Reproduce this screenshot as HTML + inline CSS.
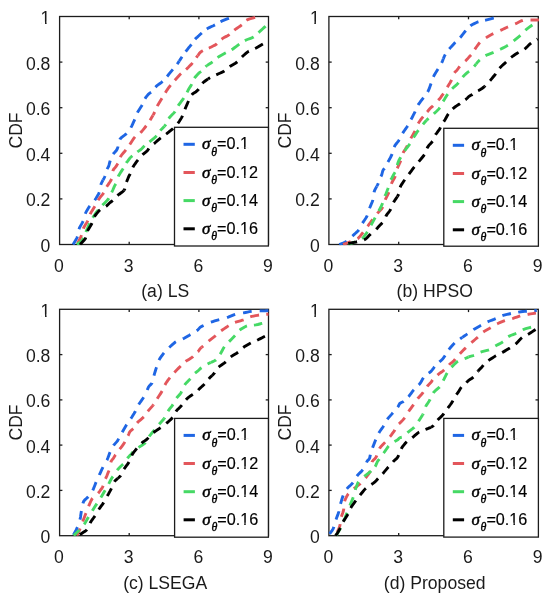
<!DOCTYPE html>
<html><head><meta charset="utf-8"><style>
html,body{margin:0;padding:0;background:#fff;}
svg{display:block;}
.t{font-family:"Liberation Sans",Arial,sans-serif;font-size:17.6px;fill:#1a1a1a;}
.l{font-family:"Liberation Sans",Arial,sans-serif;font-size:16.2px;fill:#000;stroke:#000;stroke-width:0.15px;}
.g{font-family:"Liberation Serif","DejaVu Serif",serif;font-style:italic;font-size:17.0px;fill:#000;stroke:#000;stroke-width:0.45px;}
.gs{font-family:"Liberation Serif","DejaVu Serif",serif;font-style:italic;font-size:12.0px;fill:#000;stroke:#000;stroke-width:0.35px;}
</style></head><body>
<svg width="550" height="602" viewBox="0 0 550 602">
<defs><clipPath id="cla"><rect x="58.95" y="15.85" width="210.20" height="229.30"/></clipPath><clipPath id="clb"><rect x="328.25" y="15.85" width="210.70" height="229.30"/></clipPath><clipPath id="clc"><rect x="58.95" y="308.65" width="210.20" height="227.70"/></clipPath><clipPath id="cld"><rect x="328.25" y="308.65" width="210.70" height="227.70"/></clipPath></defs>
<rect width="550" height="602" fill="#fff"/>
<rect x="59.6" y="16.5" width="208.9" height="228.0" fill="none" stroke="#1c1c1c" stroke-width="1.3"/>
<line x1="129.2" y1="244.5" x2="129.2" y2="241.7" stroke="#1c1c1c" stroke-width="1.3"/>
<line x1="129.2" y1="16.5" x2="129.2" y2="19.3" stroke="#1c1c1c" stroke-width="1.3"/>
<line x1="198.9" y1="244.5" x2="198.9" y2="241.7" stroke="#1c1c1c" stroke-width="1.3"/>
<line x1="198.9" y1="16.5" x2="198.9" y2="19.3" stroke="#1c1c1c" stroke-width="1.3"/>
<line x1="59.6" y1="198.9" x2="62.4" y2="198.9" stroke="#1c1c1c" stroke-width="1.3"/>
<line x1="268.5" y1="198.9" x2="265.7" y2="198.9" stroke="#1c1c1c" stroke-width="1.3"/>
<line x1="59.6" y1="153.3" x2="62.4" y2="153.3" stroke="#1c1c1c" stroke-width="1.3"/>
<line x1="268.5" y1="153.3" x2="265.7" y2="153.3" stroke="#1c1c1c" stroke-width="1.3"/>
<line x1="59.6" y1="107.7" x2="62.4" y2="107.7" stroke="#1c1c1c" stroke-width="1.3"/>
<line x1="268.5" y1="107.7" x2="265.7" y2="107.7" stroke="#1c1c1c" stroke-width="1.3"/>
<line x1="59.6" y1="62.1" x2="62.4" y2="62.1" stroke="#1c1c1c" stroke-width="1.3"/>
<line x1="268.5" y1="62.1" x2="265.7" y2="62.1" stroke="#1c1c1c" stroke-width="1.3"/>
<g clip-path="url(#cla)"><path d="M73.09,244.48 L74.13,242.77 L75.17,241.03 L76.20,239.30 L77.10,237.55 L77.70,235.68 L78.08,233.69 L78.40,231.71 L78.77,229.75 L79.45,227.90 L80.37,226.12 L81.40,224.39 L82.37,222.66 L83.23,220.86 L83.83,218.94 L84.34,217.00 L84.85,215.07 L85.50,213.20 L86.41,211.39 L87.41,209.66 L88.43,207.93 L89.52,206.26 L90.80,204.71 L92.17,203.25 L93.53,201.80 L94.76,200.22 L95.86,198.54 L96.92,196.83 L97.97,195.12 L98.87,193.36 L99.48,191.47 L99.85,189.51 L100.15,187.52 L100.54,185.56 L101.17,183.69 L102.08,181.89 L103.00,180.11 L103.06,180.02" fill="none" stroke="#1f66e4" stroke-width="2.9" stroke-dasharray="9.15,7.55" stroke-dashoffset="0.07"/><path d="M103.06,180.02 L103.96,178.36 L104.84,176.53 L105.53,174.66 L106.14,172.75 L106.60,170.88 L107.00,169.24 L107.76,167.89 L108.60,166.32 L109.18,164.43 L109.67,162.49 L110.22,160.57 L110.90,158.68 L111.64,156.81 L112.50,155.01 L113.64,153.46 L115.00,152.02 L116.30,150.54 L117.28,148.85 L117.91,146.96 L118.39,145.02 L118.83,143.06 L119.28,141.10 L119.95,139.30 L121.13,137.82 L122.66,136.59 L124.29,135.40 L125.87,134.17 L127.28,132.78 L128.51,131.21 L129.67,129.57 L130.77,127.88 L131.69,126.10 L132.55,124.30 L133.39,122.47 L134.22,120.63 L134.99,118.78 L135.55,117.32" fill="none" stroke="#1f66e4" stroke-width="2.9" stroke-dasharray="9.15,7.20" stroke-dashoffset="4.70"/><path d="M135.55,117.32 L135.71,116.89 L136.41,115.02 L137.15,113.15 L138.08,111.39 L139.17,109.71 L140.28,108.02 L141.37,106.35 L142.37,104.62 L143.23,102.80 L144.00,100.95 L144.81,99.13 L145.83,97.42 L147.04,95.82 L148.31,94.29 L149.75,93.09 L151.31,92.10 L152.65,90.81 L153.84,89.21 L155.04,87.61 L156.41,86.15 L157.97,84.92 L159.59,83.74 L161.22,82.55 L162.73,81.25 L164.10,79.79 L165.44,78.31 L166.77,76.78 L168.07,75.26 L169.32,73.68 L170.57,72.11 L171.85,70.56 L173.13,69.01 L174.45,67.50 L175.77,65.98 L177.00,64.40 L178.14,62.76 L179.19,61.11" fill="none" stroke="#1f66e4" stroke-width="2.9" stroke-dasharray="9.15,6.70" stroke-dashoffset="10.87"/><path d="M179.19,61.11 L179.23,61.05 L180.32,59.36 L181.41,57.68 L182.55,56.01 L183.69,54.37 L184.85,52.73 L186.05,51.11 L187.28,49.54 L188.56,47.96 L189.84,46.41 L191.07,44.84 L192.25,43.20 L193.34,41.51 L194.48,39.87 L195.80,38.41 L197.31,37.11 L198.73,35.81 L200.10,34.47 L201.61,33.19 L203.14,31.89 L204.65,30.57 L206.22,29.34 L207.92,28.29 L209.71,27.40 L211.54,26.55 L213.35,25.71 L215.14,24.80 L216.90,23.82 L218.62,22.79 L220.36,21.77 L222.15,20.88 L224.00,20.10 L225.88,19.40 L227.76,18.67 L229.64,18.03 L231.59,17.48 L233.54,17.02" fill="none" stroke="#1f66e4" stroke-width="2.9" stroke-dasharray="9.15,6.40" stroke-dashoffset="3.99"/><path d="M77.57,243.47 L78.47,241.67 L79.35,239.87 L80.26,238.07 L81.07,236.25 L81.72,234.35 L82.23,232.42 L82.74,230.46 L83.34,228.56 L84.23,226.78 L85.27,225.05 L86.34,223.36 L87.36,221.63 L88.17,219.81 L88.85,217.92 L89.50,216.02 L90.19,214.15 L91.07,212.35 L92.12,210.64 L93.21,208.93 L94.25,207.22 L95.25,205.49 L96.18,203.69 L97.09,201.91 L98.08,200.18 L99.24,198.54 L100.50,196.96 L101.77,195.41 L103.00,193.84 L104.07,192.15 L104.95,190.35 L105.79,188.53 L106.74,186.75 L107.83,185.08 L108.97,183.42 L110.08,181.75 L111.08,180.02 L111.78,178.20 L111.99,176.99" fill="none" stroke="#e3565b" stroke-width="2.9" stroke-dasharray="9.25,6.80" stroke-dashoffset="0.05"/><path d="M111.99,176.99 L112.13,176.24 L112.31,174.23 L112.52,172.29 L112.99,170.49 L113.87,168.96 L115.12,167.64 L116.24,166.11 L117.19,164.47 L118.12,163.08 L118.90,161.55 L119.58,159.73 L120.16,157.86 L120.85,156.10 L121.95,154.53 L123.27,153.03 L124.61,151.52 L125.87,149.97 L127.05,148.35 L128.21,146.71 L129.37,145.07 L130.51,143.40 L131.60,141.72 L132.69,140.03 L133.78,138.37 L135.06,136.84 L136.59,135.58 L138.24,134.44 L139.84,133.26 L141.30,131.89 L142.60,130.39 L143.88,128.81 L145.13,127.26 L146.36,125.67 L147.52,124.02 L148.64,122.36 L149.75,120.67 L150.80,118.96 L151.82,117.23 L152.84,115.50 L152.93,115.34" fill="none" stroke="#e3565b" stroke-width="2.9" stroke-dasharray="9.25,6.70" stroke-dashoffset="10.04"/><path d="M152.93,115.34 L153.84,113.74 L154.74,111.94 L155.53,110.09 L156.30,108.25 L157.11,106.40 L158.06,104.64 L159.08,102.91 L160.15,101.20 L161.20,99.49 L162.26,97.78 L163.31,96.07 L164.37,94.36 L165.37,92.65 L166.37,90.94 L167.51,89.30 L168.69,87.68 L169.90,86.06 L171.13,84.49 L172.45,82.96 L173.78,81.43 L175.10,79.93 L176.44,78.45 L177.79,76.94 L179.14,75.46 L180.53,74.02 L182.04,72.70 L183.62,71.45 L185.22,70.22 L186.73,68.89 L188.17,67.50 L189.58,66.07 L191.00,64.65 L192.32,63.15 L193.53,61.53 L194.64,59.87 L195.80,58.22 L197.01,56.63 L197.80,55.62" fill="none" stroke="#e3565b" stroke-width="2.9" stroke-dasharray="9.25,6.40" stroke-dashoffset="5.47"/><path d="M197.80,55.62 L198.22,55.08 L199.28,53.53 L200.54,52.18 L202.16,51.06 L203.95,50.15 L205.78,49.35 L207.66,48.60 L209.50,47.80 L211.31,46.94 L213.12,46.05 L214.91,45.14 L216.58,44.09 L218.06,42.77 L219.43,41.28 L220.80,39.85 L222.36,38.62 L224.07,37.59 L225.84,36.63 L227.60,35.67 L229.30,34.63 L230.85,33.37 L232.29,31.98 L233.75,30.61 L235.33,29.36 L236.98,28.22 L238.65,27.10 L240.30,25.96 L241.88,24.73 L243.29,23.32 L244.64,21.84 L246.05,20.49 L247.75,19.53 L249.63,18.89 L251.56,18.35 L253.51,17.80 L255.46,17.34 L257.43,17.02 L259.42,16.75 L260.42,16.64" fill="none" stroke="#e3565b" stroke-width="2.9" stroke-dasharray="9.25,6.45" stroke-dashoffset="2.03"/><path d="M76.92,244.48 L78.54,243.29 L80.17,242.11 L81.67,240.83 L82.88,239.32 L83.72,237.52 L84.44,235.65 L85.18,233.78 L85.92,231.91 L86.69,230.07 L87.48,228.22 L88.27,226.37 L89.08,224.53 L89.91,222.70 L90.87,220.92 L91.84,219.17 L92.86,217.46 L93.95,215.77 L95.11,214.11 L96.25,212.47 L97.46,210.87 L98.76,209.32 L100.08,207.81 L101.43,206.33 L102.80,204.85 L104.21,203.41 L105.63,202.00 L107.02,200.56 L108.32,199.06 L109.36,197.37 L110.18,195.55 L110.97,193.75 L111.85,192.04 L112.71,190.28 L113.47,188.43 L114.26,186.59 L115.14,184.90 L116.10,183.42 L116.61,182.16" fill="none" stroke="#46d965" stroke-width="2.9" stroke-dasharray="9.50,6.40" stroke-dashoffset="0.05"/><path d="M116.61,182.16 L116.77,181.75 L117.19,179.82 L117.65,177.92 L118.37,176.17 L119.37,174.53 L120.41,172.82 L121.48,171.11 L122.55,169.44 L123.59,167.82 L124.52,166.09 L125.40,164.31 L126.47,162.69 L127.72,161.19 L128.79,159.62 L129.86,158.07 L131.25,156.72 L132.81,155.47 L134.41,154.26 L135.96,153.03 L137.43,151.86 L138.91,150.84 L140.51,149.81 L141.98,148.47 L143.32,146.98 L144.74,145.57 L146.27,144.29 L147.87,143.09 L149.47,141.85 L151.03,140.60 L152.58,139.32 L154.14,138.05 L155.65,136.75 L156.99,135.27 L158.15,133.65 L159.29,131.98 L160.50,130.39 L161.84,128.90 L163.26,127.47 L164.41,126.28" fill="none" stroke="#46d965" stroke-width="2.9" stroke-dasharray="9.50,6.30" stroke-dashoffset="9.96"/><path d="M164.41,126.28 L164.65,126.03 L165.91,124.50 L166.84,122.75 L167.60,120.90 L168.44,119.10 L169.53,117.46 L170.90,116.00 L172.31,114.59 L173.71,113.15 L174.98,111.62 L176.00,109.91 L176.93,108.13 L177.86,106.35 L178.91,104.64 L180.09,103.03 L181.30,101.41 L182.50,99.79 L183.69,98.17 L184.80,96.51 L185.87,94.80 L186.80,93.06 L187.59,91.28 L188.49,89.53 L189.54,87.82 L190.60,86.13 L191.60,84.38 L192.44,82.55 L193.20,80.70 L194.04,78.88 L195.11,77.24 L196.43,75.71 L197.75,74.25 L199.08,72.91 L200.54,71.86 L202.02,70.74 L203.32,69.26 L204.58,67.71 L205.99,66.32 L207.00,65.57" fill="none" stroke="#46d965" stroke-width="2.9" stroke-dasharray="9.50,6.55" stroke-dashoffset="7.16"/><path d="M207.00,65.57 L207.59,65.13 L209.29,64.06 L210.98,62.97 L212.61,61.80 L214.14,60.53 L215.65,59.20 L217.18,57.88 L218.78,56.70 L220.50,55.67 L222.26,54.71 L224.03,53.76 L225.81,52.82 L227.60,51.91 L229.41,51.02 L231.18,50.06 L232.85,48.97 L234.47,47.78 L236.07,46.57 L237.68,45.36 L239.30,44.18 L240.97,43.04 L242.64,41.92 L244.34,40.87 L246.12,39.98 L248.00,39.25 L249.88,38.59 L251.76,37.89 L253.58,37.07 L255.15,35.90 L256.59,34.51 L258.03,33.12 L259.49,31.73 L260.98,30.39 L262.47,29.02 L263.95,27.67 L265.46,26.33 L266.97,25.00 L268.48,23.68" fill="none" stroke="#46d965" stroke-width="2.9" stroke-dasharray="9.50,6.60" stroke-dashoffset="2.82"/><path d="M80.12,244.48 L81.49,243.02 L82.86,241.56 L84.23,240.08 L85.39,238.50 L86.11,236.70 L86.52,234.76 L86.94,232.80 L87.57,230.93 L88.50,229.18 L89.52,227.47 L90.59,225.76 L91.58,224.03 L92.42,222.22 L93.07,220.33 L93.67,218.42 L94.46,216.62 L95.58,214.97 L96.83,213.42 L98.13,211.90 L99.43,210.37 L100.89,209.07 L102.59,208.07 L104.40,207.22 L106.12,206.24 L107.62,204.96 L109.02,203.53 L110.50,202.21 L112.10,201.04 L113.61,199.79 L114.96,198.33 L116.26,196.83 L117.67,195.46 L119.21,194.23 L120.81,193.02 L122.39,191.79 L123.83,190.53 L123.92,190.38" fill="none" stroke="#000000" stroke-width="2.9" stroke-dasharray="9.00,6.85" stroke-dashoffset="0.03"/><path d="M123.92,190.38 L124.80,188.98 L125.29,187.09 L125.64,185.13 L126.08,183.21 L126.73,181.44 L127.49,179.66 L128.21,177.81 L129.02,175.99 L129.98,174.23 L130.83,172.45 L131.55,170.58 L132.23,168.69 L133.04,166.89 L134.08,165.20 L135.25,163.56 L136.43,161.94 L137.64,160.32 L138.89,158.77 L140.19,157.24 L141.54,155.76 L142.95,154.35 L144.48,153.05 L146.04,151.80 L147.50,150.47 L148.57,148.95 L149.59,147.37 L151.01,146.05 L152.58,144.82 L154.16,143.56 L155.67,142.24 L157.16,140.92 L158.67,139.57 L160.20,138.30 L161.82,137.09 L163.47,135.97 L165.14,134.85 L165.60,134.51" fill="none" stroke="#000000" stroke-width="2.9" stroke-dasharray="9.00,6.95" stroke-dashoffset="7.08"/><path d="M165.60,134.51 L166.74,133.67 L168.32,132.42 L169.88,131.14 L171.43,129.86 L172.94,128.56 L174.40,127.17 L175.82,125.76 L177.19,124.30 L178.39,122.70 L179.51,121.04 L180.58,119.35 L181.60,117.62 L182.46,115.82 L183.20,113.95 L183.87,112.08 L184.59,110.19 L185.33,108.34 L186.12,106.49 L186.94,104.64 L187.73,102.80 L188.54,100.97 L189.42,99.15 L190.30,97.37 L191.25,95.62 L192.44,94.07 L193.97,92.86 L195.66,91.92 L197.22,90.74 L198.54,89.28 L199.68,87.64 L200.68,85.90 L201.72,84.22 L203.00,82.73 L204.53,81.46 L206.15,80.27 L207.78,79.11 L208.12,78.90" fill="none" stroke="#000000" stroke-width="2.9" stroke-dasharray="9.00,6.95" stroke-dashoffset="15.33"/><path d="M208.12,78.90 L209.47,78.06 L211.26,77.13 L213.07,76.30 L214.91,75.46 L216.74,74.64 L218.55,73.80 L220.38,72.95 L222.19,72.09 L223.96,71.17 L225.61,70.03 L227.14,68.76 L228.67,67.48 L230.27,66.27 L231.97,65.22 L233.71,64.20 L235.42,63.17 L237.07,62.05 L238.53,60.71 L239.86,59.23 L241.20,57.72 L242.62,56.31 L244.08,54.94 L245.57,53.60 L247.10,52.30 L248.72,51.20 L250.53,50.38 L252.41,49.67 L254.27,48.94 L256.08,48.08 L257.82,47.07 L259.52,46.03 L261.23,44.98 L262.95,43.97 L264.76,43.08 L266.62,42.31 L268.48,41.58" fill="none" stroke="#000000" stroke-width="2.9" stroke-dasharray="9.00,6.80" stroke-dashoffset="6.68"/></g>
<text x="59.0" y="272.0" text-anchor="middle" class="t">0</text>
<text x="128.6" y="272.0" text-anchor="middle" class="t">3</text>
<text x="198.3" y="272.0" text-anchor="middle" class="t">6</text>
<text x="267.9" y="272.0" text-anchor="middle" class="t">9</text>
<text x="50.4" y="251.9" text-anchor="end" class="t">0</text>
<text x="50.4" y="206.3" text-anchor="end" class="t">0.2</text>
<text x="50.4" y="160.7" text-anchor="end" class="t">0.4</text>
<text x="50.4" y="115.1" text-anchor="end" class="t">0.6</text>
<text x="50.4" y="69.5" text-anchor="end" class="t">0.8</text>
<text x="50.4" y="23.9" text-anchor="end" class="t">1</text>
<text transform="translate(22.0,130.5) rotate(-90)" text-anchor="middle" class="t">CDF</text>
<text x="165.2" y="297.3" text-anchor="middle" class="t">(a) LS</text>
<rect x="174.5" y="127.3" width="93.9" height="118.7" fill="#fff" stroke="#1c1c1c" stroke-width="1.3"/>
<line x1="183.5" y1="144.3" x2="194.8" y2="144.3" stroke="#1f66e4" stroke-width="3"/>
<text x="202.1" y="149.3" class="g">σ</text>
<text x="211.3" y="155.9" class="gs">θ</text>
<text x="217.1" y="149.3" class="l">=0.1</text>
<line x1="183.5" y1="172.5" x2="194.8" y2="172.5" stroke="#e3565b" stroke-width="3"/>
<text x="202.1" y="177.5" class="g">σ</text>
<text x="211.3" y="184.1" class="gs">θ</text>
<text x="217.1" y="177.5" class="l">=0.12</text>
<line x1="183.5" y1="200.6" x2="194.8" y2="200.6" stroke="#46d965" stroke-width="3"/>
<text x="202.1" y="205.6" class="g">σ</text>
<text x="211.3" y="212.2" class="gs">θ</text>
<text x="217.1" y="205.6" class="l">=0.14</text>
<line x1="183.5" y1="228.8" x2="194.8" y2="228.8" stroke="#000000" stroke-width="3"/>
<text x="202.1" y="233.8" class="g">σ</text>
<text x="211.3" y="240.3" class="gs">θ</text>
<text x="217.1" y="233.8" class="l">=0.16</text>
<rect x="328.9" y="16.5" width="209.4" height="228.0" fill="none" stroke="#1c1c1c" stroke-width="1.3"/>
<line x1="398.7" y1="244.5" x2="398.7" y2="241.7" stroke="#1c1c1c" stroke-width="1.3"/>
<line x1="398.7" y1="16.5" x2="398.7" y2="19.3" stroke="#1c1c1c" stroke-width="1.3"/>
<line x1="468.5" y1="244.5" x2="468.5" y2="241.7" stroke="#1c1c1c" stroke-width="1.3"/>
<line x1="468.5" y1="16.5" x2="468.5" y2="19.3" stroke="#1c1c1c" stroke-width="1.3"/>
<line x1="328.9" y1="198.9" x2="331.7" y2="198.9" stroke="#1c1c1c" stroke-width="1.3"/>
<line x1="538.3" y1="198.9" x2="535.5" y2="198.9" stroke="#1c1c1c" stroke-width="1.3"/>
<line x1="328.9" y1="153.3" x2="331.7" y2="153.3" stroke="#1c1c1c" stroke-width="1.3"/>
<line x1="538.3" y1="153.3" x2="535.5" y2="153.3" stroke="#1c1c1c" stroke-width="1.3"/>
<line x1="328.9" y1="107.7" x2="331.7" y2="107.7" stroke="#1c1c1c" stroke-width="1.3"/>
<line x1="538.3" y1="107.7" x2="535.5" y2="107.7" stroke="#1c1c1c" stroke-width="1.3"/>
<line x1="328.9" y1="62.1" x2="331.7" y2="62.1" stroke="#1c1c1c" stroke-width="1.3"/>
<line x1="538.3" y1="62.1" x2="535.5" y2="62.1" stroke="#1c1c1c" stroke-width="1.3"/>
<g clip-path="url(#clb)"><path d="M339.23,244.48 L341.11,243.75 L343.00,243.04 L344.86,242.29 L346.63,241.40 L348.19,240.21 L349.63,238.82 L351.07,237.41 L352.52,236.00 L353.98,234.63 L355.47,233.28 L356.96,231.94 L358.36,230.52 L359.50,228.90 L360.38,227.10 L361.24,225.30 L362.19,223.55 L363.31,221.86 L364.45,220.20 L365.59,218.55 L366.66,216.87 L367.45,215.07 L367.94,213.13 L368.41,211.19 L369.06,209.32 L369.87,207.52 L370.66,205.69 L371.43,203.82 L372.18,201.98 L372.83,200.11 L373.25,198.24 L373.46,196.26 L373.64,194.25 L373.97,192.31 L374.64,190.44 L375.53,188.64 L376.46,186.86 L376.75,186.29" fill="none" stroke="#1f66e4" stroke-width="2.9" stroke-dasharray="9.00,7.65" stroke-dashoffset="0.80"/><path d="M376.75,186.29 L377.39,185.08 L378.27,183.30 L378.97,181.48 L379.53,179.59 L380.18,177.83 L381.04,176.33 L381.76,174.66 L382.27,172.75 L382.79,170.86 L383.51,169.42 L384.44,168.76 L385.02,168.10 L385.55,167.05 L386.28,165.48 L387.04,163.67 L387.93,161.92 L388.93,160.25 L389.91,158.52 L390.84,156.74 L391.72,154.94 L392.37,153.09 L392.88,151.18 L393.42,149.24 L394.02,147.35 L394.93,145.59 L396.09,143.97 L397.35,142.40 L398.56,140.81 L399.63,139.12 L400.51,137.32 L401.35,135.49 L402.28,133.76 L403.35,132.14 L404.47,130.52 L405.61,128.88 L406.75,127.24 L407.87,125.64 L408.80,123.96 L409.54,122.38" fill="none" stroke="#1f66e4" stroke-width="2.9" stroke-dasharray="9.00,7.30" stroke-dashoffset="5.61"/><path d="M409.54,122.38 L409.66,122.13 L410.52,120.38 L411.47,118.69 L412.40,116.96 L413.31,115.18 L414.22,113.38 L415.08,111.55 L415.89,109.71 L416.64,107.86 L417.45,106.06 L418.45,104.39 L419.62,102.82 L420.80,101.20 L421.99,99.61 L423.20,98.03 L424.36,96.46 L425.48,94.84 L426.62,93.31 L427.71,91.90 L428.57,90.24 L429.30,88.39 L429.99,86.50 L430.69,84.60 L431.34,82.71 L431.99,80.80 L432.62,78.88 L433.32,77.01 L434.20,75.21 L435.23,73.48 L436.30,71.79 L437.37,70.08 L438.44,68.37 L439.49,66.66 L440.51,64.93 L441.49,63.17 L442.35,61.35 L443.09,59.50 L443.38,58.74" fill="none" stroke="#1f66e4" stroke-width="2.9" stroke-dasharray="9.00,7.20" stroke-dashoffset="12.98"/><path d="M443.38,58.74 L443.81,57.61 L444.58,55.76 L445.51,54.01 L446.65,52.36 L447.89,50.77 L449.12,49.20 L450.42,47.64 L451.77,46.16 L453.12,44.66 L454.47,43.18 L455.89,41.74 L457.33,40.35 L458.80,38.98 L460.22,37.54 L461.50,35.99 L462.73,34.42 L463.94,32.80 L465.20,31.23 L466.50,29.70 L467.85,28.22 L469.24,26.78 L470.78,25.53 L472.48,24.50 L474.27,23.59 L476.08,22.72 L477.92,21.95 L479.85,21.38 L481.81,20.95 L483.79,20.51 L485.74,20.08 L487.69,19.60 L489.65,19.08 L491.58,18.53 L493.51,18.00 L495.47,17.55 L497.44,17.18 L498.44,17.02" fill="none" stroke="#1f66e4" stroke-width="2.9" stroke-dasharray="9.00,6.75" stroke-dashoffset="4.30"/><path d="M343.07,244.48 L344.95,243.79 L346.84,243.11 L348.75,242.43 L350.63,241.72 L352.49,241.01 L354.38,240.28 L356.22,239.53 L357.89,238.50 L359.29,237.14 L360.57,235.59 L361.85,234.03 L363.10,232.46 L364.31,230.87 L365.50,229.25 L366.69,227.63 L367.87,226.01 L369.03,224.37 L370.22,222.75 L371.41,221.13 L372.59,219.49 L373.76,217.87 L374.94,216.25 L376.15,214.65 L377.48,213.13 L378.88,211.69 L380.30,210.28 L381.65,208.80 L382.69,207.15 L383.39,205.31 L383.97,203.39 L384.58,201.48 L385.30,199.63 L386.16,197.81 L387.04,196.03 L387.95,194.23 L388.88,192.47 L389.67,190.69 L390.28,188.80 L390.81,186.88 L390.97,186.16" fill="none" stroke="#e3565b" stroke-width="2.9" stroke-dasharray="8.50,7.55" stroke-dashoffset="0.40"/><path d="M390.97,186.16 L391.21,185.01 L391.65,183.26 L392.44,181.53 L393.42,179.79 L394.40,178.04 L395.21,176.24 L395.77,174.34 L396.23,172.38 L396.70,170.45 L397.26,168.51 L398.03,166.68 L398.91,164.88 L399.68,163.06 L400.44,161.39 L401.14,159.78 L401.68,157.93 L402.17,155.99 L402.70,154.05 L403.42,152.27 L404.42,150.66 L405.49,148.99 L406.47,147.24 L407.40,145.46 L408.29,143.66 L409.12,141.83 L409.96,140.01 L410.87,138.30 L411.87,136.63 L412.85,134.92 L413.82,133.14 L414.75,131.37 L415.57,129.54 L416.29,127.67 L416.99,125.80 L417.80,124.05 L418.83,122.43 L419.97,120.79 L421.13,119.17 L422.34,117.60 L423.57,116.09 L424.10,115.43" fill="none" stroke="#e3565b" stroke-width="2.9" stroke-dasharray="8.50,8.05" stroke-dashoffset="14.11"/><path d="M424.10,115.43 L424.81,114.54 L426.04,113.01 L427.34,111.69 L428.53,110.28 L429.76,108.77 L431.20,107.40 L432.72,106.08 L434.14,104.69 L435.48,103.19 L436.81,101.70 L438.14,100.38 L439.42,99.08 L440.60,97.55 L441.74,95.94 L442.91,94.45 L444.02,93.06 L445.02,91.47 L445.93,89.71 L446.86,87.93 L447.89,86.20 L448.96,84.49 L450.05,82.80 L451.05,81.07 L451.89,79.27 L452.56,77.38 L453.19,75.46 L453.94,73.64 L455.05,72.04 L456.45,70.67 L457.75,69.19 L458.84,67.53 L460.01,65.91 L461.40,64.49 L462.89,63.15 L464.41,61.83 L465.89,60.48 L467.31,59.09 L468.57,57.63 L469.73,56.24 L471.08,54.99 L471.94,53.95" fill="none" stroke="#e3565b" stroke-width="2.9" stroke-dasharray="8.50,7.55" stroke-dashoffset="11.40"/><path d="M471.94,53.95 L472.32,53.50 L473.34,51.79 L474.34,50.06 L475.43,48.37 L476.60,46.73 L477.78,45.11 L478.99,43.52 L480.32,42.06 L481.86,40.76 L483.46,39.55 L485.09,38.41 L486.79,37.34 L488.53,36.31 L490.25,35.31 L492.02,34.33 L493.79,33.42 L495.63,32.55 L497.44,31.73 L499.28,30.91 L501.12,30.07 L502.93,29.22 L504.75,28.38 L506.59,27.54 L508.43,26.74 L510.26,25.94 L512.12,25.16 L513.99,24.39 L515.82,23.59 L517.64,22.72 L519.43,21.81 L521.22,20.95 L523.06,20.24 L524.99,20.01 L526.99,20.01 L528.99,20.01 L530.99,20.01 L533.00,20.01 L535.00,20.01 L537.00,20.01 L539.00,19.83" fill="none" stroke="#e3565b" stroke-width="2.9" stroke-dasharray="8.50,7.70" stroke-dashoffset="10.80"/><path d="M348.19,244.48 L350.07,243.79 L351.98,243.13 L353.87,242.45 L355.73,241.72 L357.59,240.94 L359.43,240.17 L361.22,239.30 L362.73,238.12 L363.99,236.59 L365.17,234.97 L366.36,233.35 L367.45,231.69 L368.48,229.95 L369.43,228.18 L370.38,226.42 L371.34,224.66 L372.29,222.89 L373.25,221.13 L374.20,219.35 L375.15,217.60 L376.11,215.82 L377.06,214.06 L378.04,212.31 L379.02,210.55 L379.97,208.80 L380.90,207.02 L381.76,205.22 L382.51,203.35 L383.09,201.45 L383.62,199.52 L384.20,197.65 L384.95,195.96 L385.74,194.29 L386.48,192.47 L387.21,190.58 L387.88,188.71 L388.44,186.82 L388.92,184.94" fill="none" stroke="#46d965" stroke-width="2.9" stroke-dasharray="8.75,7.50" stroke-dashoffset="1.22"/><path d="M388.92,184.94 L388.93,184.90 L389.44,182.99 L390.04,181.16 L390.91,179.59 L391.88,177.99 L392.79,176.24 L393.72,174.48 L394.67,172.86 L395.56,171.29 L396.16,169.47 L396.70,167.53 L397.16,165.59 L397.68,163.70 L398.33,161.80 L399.12,159.98 L400.12,158.27 L401.10,156.58 L401.93,154.80 L402.84,153.07 L403.91,151.50 L405.12,150.11 L406.26,148.58 L407.52,147.03 L408.77,145.48 L409.96,143.88 L410.98,142.15 L411.92,140.37 L412.85,138.64 L413.89,137.00 L414.99,135.38 L416.06,133.71 L417.15,132.00 L418.24,130.34 L419.41,128.72 L420.69,127.17 L421.94,125.62 L423.22,124.07 L424.53,122.57 L425.85,121.06 L426.59,120.29" fill="none" stroke="#46d965" stroke-width="2.9" stroke-dasharray="8.75,7.40" stroke-dashoffset="10.67"/><path d="M426.59,120.29 L427.22,119.62 L428.64,118.30 L430.13,117.03 L431.58,115.68 L433.06,114.31 L434.58,113.04 L436.09,111.74 L437.56,110.34 L438.93,108.91 L440.09,107.31 L440.98,105.53 L441.74,103.73 L442.60,102.11 L443.60,100.65 L444.63,99.04 L445.65,97.30 L446.68,95.62 L447.77,94.13 L448.91,92.77 L450.03,91.19 L451.21,89.62 L452.61,88.23 L454.12,86.95 L455.63,85.63 L457.12,84.31 L458.50,82.87 L459.71,81.27 L460.82,79.61 L461.99,77.97 L463.24,76.44 L464.66,75.03 L466.13,73.66 L467.59,72.36 L469.04,71.33 L470.43,70.38 L471.78,69.05 L473.13,67.57 L474.46,66.07 L475.71,64.52 L476.07,64.07" fill="none" stroke="#46d965" stroke-width="2.9" stroke-dasharray="8.75,6.95" stroke-dashoffset="6.03"/><path d="M476.07,64.07 L476.99,62.94 L478.27,61.42 L479.64,59.96 L481.16,58.66 L482.74,57.43 L484.34,56.26 L486.09,55.31 L487.93,54.53 L489.81,53.80 L491.67,53.07 L493.53,52.32 L495.37,51.52 L497.21,50.70 L499.03,49.86 L500.84,48.99 L502.63,48.12 L504.45,47.21 L506.22,46.30 L507.96,45.30 L509.59,44.16 L511.17,42.90 L512.73,41.65 L514.29,40.42 L515.87,39.16 L517.43,37.91 L518.99,36.63 L520.52,35.33 L521.92,33.92 L523.27,32.41 L524.62,30.96 L526.08,29.59 L527.67,28.36 L529.27,27.19 L530.90,26.01 L532.58,24.89 L534.27,23.82 L536.00,22.79 L537.72,21.77" fill="none" stroke="#46d965" stroke-width="2.9" stroke-dasharray="8.75,7.20" stroke-dashoffset="3.22"/><path d="M348.19,243.47 L350.17,243.11 L352.14,242.74 L354.12,242.36 L356.10,241.97 L358.05,241.51 L360.01,241.03 L361.94,240.53 L363.85,239.96 L365.59,239.10 L367.06,237.82 L368.41,236.34 L369.76,234.86 L371.22,233.46 L372.76,232.19 L374.34,230.96 L375.88,229.66 L377.25,228.20 L378.53,226.67 L379.88,225.19 L381.32,223.84 L382.69,222.52 L383.76,220.92 L384.67,219.17 L385.39,217.46 L386.11,215.82 L387.18,214.22 L388.42,212.63 L389.63,211.03 L390.70,209.37 L391.51,207.54 L392.16,205.65 L392.88,203.78 L393.79,202.00 L394.86,200.31 L395.98,198.63 L397.09,196.96 L397.39,196.49" fill="none" stroke="#000000" stroke-width="2.9" stroke-dasharray="9.00,7.20" stroke-dashoffset="16.15"/><path d="M397.39,196.49 L398.14,195.27 L398.91,193.47 L399.30,191.54 L399.56,189.55 L399.98,187.61 L400.77,185.84 L401.82,184.13 L402.93,182.46 L404.05,180.80 L405.21,179.13 L406.40,177.54 L407.61,175.92 L408.82,174.30 L410.01,172.68 L411.22,171.08 L412.40,169.47 L413.59,167.85 L414.82,166.25 L416.13,164.72 L417.41,163.24 L418.64,161.80 L419.87,160.32 L421.15,158.77 L422.41,157.22 L423.60,155.74 L424.60,154.39 L425.36,152.80 L425.95,150.93 L426.62,149.06 L427.55,147.30 L428.69,145.66 L429.99,144.13 L431.39,142.70 L432.60,141.15 L433.46,139.37 L434.09,137.50 L434.64,136.10" fill="none" stroke="#000000" stroke-width="2.9" stroke-dasharray="9.00,6.90" stroke-dashoffset="6.27"/><path d="M434.64,136.10 L434.79,135.72 L435.76,134.24 L436.93,132.80 L438.11,131.21 L439.28,129.59 L440.28,127.92 L441.12,126.19 L441.98,124.41 L442.98,122.75 L444.09,121.17 L445.14,119.53 L446.12,117.78 L447.07,116.00 L448.07,114.27 L449.24,112.65 L450.54,111.12 L451.89,109.64 L453.33,108.25 L454.91,107.04 L456.56,105.90 L458.24,104.80 L459.91,103.73 L461.52,102.55 L463.06,101.29 L464.59,100.22 L466.06,99.22 L467.38,97.92 L468.73,96.53 L470.36,95.50 L472.13,94.66 L473.80,93.59 L475.41,92.38 L477.02,91.28 L478.67,90.46 L480.32,89.57 L481.97,88.48 L483.58,87.29 L484.53,86.45" fill="none" stroke="#000000" stroke-width="2.9" stroke-dasharray="9.00,6.65" stroke-dashoffset="14.15"/><path d="M484.53,86.45 L485.07,85.97 L486.44,84.54 L487.81,83.08 L489.21,81.64 L490.53,80.13 L491.81,78.58 L493.09,77.03 L494.37,75.51 L495.61,73.91 L496.75,72.27 L497.86,70.60 L499.00,68.94 L500.28,67.41 L501.72,66.02 L503.21,64.68 L504.70,63.31 L506.17,61.94 L507.61,60.55 L509.05,59.14 L510.52,57.79 L512.12,56.56 L513.78,55.44 L515.45,54.33 L517.15,53.23 L518.87,52.20 L520.64,51.27 L522.43,50.36 L524.18,49.35 L525.74,48.12 L527.18,46.76 L528.60,45.32 L530.04,43.93 L531.60,42.67 L533.27,41.58 L535.00,40.55 L536.74,39.53 L537.60,39.03" fill="none" stroke="#000000" stroke-width="2.9" stroke-dasharray="9.00,6.80" stroke-dashoffset="7.88"/></g>
<text x="328.3" y="272.0" text-anchor="middle" class="t">0</text>
<text x="398.1" y="272.0" text-anchor="middle" class="t">3</text>
<text x="467.9" y="272.0" text-anchor="middle" class="t">6</text>
<text x="537.7" y="272.0" text-anchor="middle" class="t">9</text>
<text x="319.7" y="251.9" text-anchor="end" class="t">0</text>
<text x="319.7" y="206.3" text-anchor="end" class="t">0.2</text>
<text x="319.7" y="160.7" text-anchor="end" class="t">0.4</text>
<text x="319.7" y="115.1" text-anchor="end" class="t">0.6</text>
<text x="319.7" y="69.5" text-anchor="end" class="t">0.8</text>
<text x="319.7" y="23.9" text-anchor="end" class="t">1</text>
<text transform="translate(291.3,130.5) rotate(-90)" text-anchor="middle" class="t">CDF</text>
<text x="434.7" y="297.3" text-anchor="middle" class="t">(b) HPSO</text>
<rect x="443.8" y="128.3" width="94.6" height="117.9" fill="#fff" stroke="#1c1c1c" stroke-width="1.3"/>
<line x1="452.8" y1="145.3" x2="464.1" y2="145.3" stroke="#1f66e4" stroke-width="3"/>
<text x="471.4" y="150.3" class="g">σ</text>
<text x="480.6" y="156.9" class="gs">θ</text>
<text x="486.4" y="150.3" class="l">=0.1</text>
<line x1="452.8" y1="173.5" x2="464.1" y2="173.5" stroke="#e3565b" stroke-width="3"/>
<text x="471.4" y="178.5" class="g">σ</text>
<text x="480.6" y="185.1" class="gs">θ</text>
<text x="486.4" y="178.5" class="l">=0.12</text>
<line x1="452.8" y1="201.6" x2="464.1" y2="201.6" stroke="#46d965" stroke-width="3"/>
<text x="471.4" y="206.6" class="g">σ</text>
<text x="480.6" y="213.2" class="gs">θ</text>
<text x="486.4" y="206.6" class="l">=0.14</text>
<line x1="452.8" y1="229.8" x2="464.1" y2="229.8" stroke="#000000" stroke-width="3"/>
<text x="471.4" y="234.8" class="g">σ</text>
<text x="480.6" y="241.3" class="gs">θ</text>
<text x="486.4" y="234.8" class="l">=0.16</text>
<rect x="59.6" y="309.3" width="208.9" height="226.4" fill="none" stroke="#1c1c1c" stroke-width="1.3"/>
<line x1="129.2" y1="535.7" x2="129.2" y2="532.9" stroke="#1c1c1c" stroke-width="1.3"/>
<line x1="129.2" y1="309.3" x2="129.2" y2="312.1" stroke="#1c1c1c" stroke-width="1.3"/>
<line x1="198.9" y1="535.7" x2="198.9" y2="532.9" stroke="#1c1c1c" stroke-width="1.3"/>
<line x1="198.9" y1="309.3" x2="198.9" y2="312.1" stroke="#1c1c1c" stroke-width="1.3"/>
<line x1="59.6" y1="490.4" x2="62.4" y2="490.4" stroke="#1c1c1c" stroke-width="1.3"/>
<line x1="268.5" y1="490.4" x2="265.7" y2="490.4" stroke="#1c1c1c" stroke-width="1.3"/>
<line x1="59.6" y1="445.1" x2="62.4" y2="445.1" stroke="#1c1c1c" stroke-width="1.3"/>
<line x1="268.5" y1="445.1" x2="265.7" y2="445.1" stroke="#1c1c1c" stroke-width="1.3"/>
<line x1="59.6" y1="399.9" x2="62.4" y2="399.9" stroke="#1c1c1c" stroke-width="1.3"/>
<line x1="268.5" y1="399.9" x2="265.7" y2="399.9" stroke="#1c1c1c" stroke-width="1.3"/>
<line x1="59.6" y1="354.6" x2="62.4" y2="354.6" stroke="#1c1c1c" stroke-width="1.3"/>
<line x1="268.5" y1="354.6" x2="265.7" y2="354.6" stroke="#1c1c1c" stroke-width="1.3"/>
<g clip-path="url(#clc)"><path d="M73.09,535.50 L74.08,533.75 L75.06,531.99 L76.03,530.24 L76.92,528.43 L77.66,526.58 L78.35,524.70 L79.03,522.80 L79.68,520.89 L80.17,518.95 L80.51,516.98 L80.79,514.98 L81.09,512.99 L81.40,511.02 L81.74,509.03 L82.14,507.06 L82.53,505.09 L82.97,503.14 L83.69,501.36 L84.90,499.86 L86.39,498.50 L87.85,497.14 L89.22,495.70 L90.40,494.09 L91.52,492.41 L92.56,490.69 L93.42,488.90 L94.18,487.02 L94.90,485.17 L95.62,483.29 L96.41,481.43 L97.23,479.60 L98.04,477.76 L98.87,475.93 L99.71,474.10 L100.57,472.29 L101.40,470.45 L102.24,468.64 L103.14,466.83 L104.12,465.09 L105.16,463.37 L105.39,462.99" fill="none" stroke="#1f66e4" stroke-width="2.9" stroke-dasharray="8.75,7.85" stroke-dashoffset="15.93"/><path d="M105.39,462.99 L106.18,461.64 L107.07,459.90 L107.83,458.07 L108.53,456.19 L109.23,454.31 L109.90,452.43 L110.66,450.62 L111.59,448.83 L112.57,447.09 L113.61,445.41 L114.87,443.85 L116.21,442.38 L117.47,440.86 L118.39,439.19 L119.18,437.42 L120.13,435.65 L121.16,433.93 L122.18,432.21 L123.20,430.47 L124.22,428.75 L125.24,427.01 L126.26,425.28 L127.35,423.59 L128.49,421.93 L129.67,420.30 L130.81,418.65 L131.93,416.98 L132.99,415.28 L134.08,413.58 L135.11,411.86 L136.03,410.07 L136.87,408.26 L137.71,406.43 L138.63,404.64 L139.70,402.96 L140.89,401.33 L142.05,399.70 L143.21,398.05 L144.23,396.33 L145.16,394.56 L145.64,393.57" fill="none" stroke="#1f66e4" stroke-width="2.9" stroke-dasharray="8.75,7.35" stroke-dashoffset="12.97"/><path d="M145.64,393.57 L146.04,392.75 L146.90,390.94 L147.64,389.06 L148.41,387.25 L149.50,385.71 L150.89,384.44 L151.93,382.99 L152.54,381.16 L153.02,379.21 L153.51,377.27 L154.05,375.32 L154.60,373.39 L155.18,371.47 L155.79,369.55 L156.39,367.62 L156.99,365.72 L157.64,363.82 L158.29,361.92 L159.04,360.06 L160.01,358.32 L161.15,356.69 L162.33,355.06 L163.54,353.45 L164.84,351.91 L166.23,350.48 L167.65,349.06 L169.09,347.65 L170.55,346.27 L172.03,344.91 L173.54,343.58 L175.08,342.31 L176.77,341.31 L178.63,340.54 L180.51,339.86 L182.36,339.09 L184.15,338.21 L185.89,337.22 L187.63,336.20 L189.37,335.20 L191.09,334.16 L192.79,333.11" fill="none" stroke="#1f66e4" stroke-width="2.9" stroke-dasharray="8.75,7.55" stroke-dashoffset="12.47"/><path d="M192.79,333.11 L192.81,333.09 L194.50,332.03 L196.24,331.01 L197.82,329.93 L198.96,328.59 L200.10,327.32 L201.72,326.39 L203.56,325.56 L205.37,324.67 L207.15,323.79 L208.96,322.93 L210.84,322.18 L212.75,321.55 L214.67,320.96 L216.58,320.37 L218.53,319.83 L220.48,319.35 L222.43,318.90 L224.38,318.42 L226.33,317.90 L228.21,317.20 L230.06,316.43 L231.90,315.64 L233.75,314.87 L235.66,314.24 L237.61,313.81 L239.58,313.49 L241.58,313.17 L243.55,312.85 L245.52,312.47 L247.49,312.08 L249.47,311.70 L251.44,311.31 L253.44,311.02 L255.43,310.93 L257.43,310.91 L259.45,310.91 L261.47,310.91 L263.46,310.88 L265.48,310.79 L267.48,310.64 L268.48,310.55" fill="none" stroke="#1f66e4" stroke-width="2.9" stroke-dasharray="8.75,8.05" stroke-dashoffset="12.23"/><path d="M76.92,535.50 L77.77,533.69 L78.63,531.85 L79.47,530.04 L80.26,528.18 L80.98,526.33 L81.67,524.43 L82.37,522.55 L83.07,520.67 L83.79,518.79 L84.51,516.91 L85.23,515.03 L85.94,513.15 L86.66,511.27 L87.41,509.41 L88.13,507.54 L88.87,505.66 L89.66,503.82 L90.47,501.99 L91.33,500.18 L92.33,498.46 L93.63,497.03 L95.18,495.76 L96.74,494.50 L98.18,493.14 L99.45,491.57 L100.64,489.97 L101.80,488.34 L102.80,486.62 L103.49,484.78 L103.98,482.84 L104.44,480.91 L105.05,479.28 L105.84,477.95 L106.65,476.34 L107.37,474.50 L108.11,472.65 L108.88,470.84 L109.55,469.00 L109.92,467.38" fill="none" stroke="#e3565b" stroke-width="2.9" stroke-dasharray="9.00,7.40" stroke-dashoffset="1.27"/><path d="M109.92,467.38 L109.99,467.08 L110.32,465.11 L110.64,463.14 L111.11,461.30 L112.08,459.83 L113.33,458.43 L114.31,456.78 L115.21,455.19 L116.26,453.86 L117.33,452.36 L118.44,450.73 L119.67,449.19 L120.92,447.65 L122.11,446.05 L123.29,444.42 L124.36,442.74 L125.29,441.02 L126.15,439.21 L127.03,437.44 L127.96,435.81 L128.75,434.30 L129.30,432.67 L130.30,431.19 L131.81,429.95 L133.27,428.61 L134.48,427.05 L135.52,425.35 L136.59,423.65 L137.84,422.12 L139.31,420.78 L140.86,419.51 L142.42,418.24 L143.83,416.84 L145.04,415.26 L146.15,413.58 L147.31,411.95 L148.57,410.39 L149.91,408.89 L151.24,407.40 L152.56,405.88 L152.97,405.32" fill="none" stroke="#e3565b" stroke-width="2.9" stroke-dasharray="9.00,6.90" stroke-dashoffset="10.74"/><path d="M152.97,405.32 L153.74,404.27 L154.84,402.58 L155.86,400.86 L156.92,399.14 L157.99,397.44 L159.11,395.76 L160.22,394.09 L161.31,392.41 L162.31,390.69 L163.19,388.88 L164.00,387.05 L164.79,385.21 L165.74,383.49 L166.84,381.82 L168.00,380.19 L169.18,378.56 L170.41,376.97 L171.69,375.43 L173.03,373.91 L174.38,372.42 L175.77,370.97 L177.19,369.57 L178.60,368.14 L180.02,366.72 L181.46,365.31 L182.87,363.89 L184.31,362.48 L185.87,361.24 L187.54,360.15 L189.28,359.13 L191.00,358.09 L192.62,356.96 L193.99,355.55 L195.25,353.99 L196.57,352.63 L197.96,351.68 L198.94,350.53 L199.80,349.03 L201.14,347.70 L201.57,347.37" fill="none" stroke="#e3565b" stroke-width="2.9" stroke-dasharray="9.00,6.75" stroke-dashoffset="7.86"/><path d="M201.57,347.37 L202.72,346.47 L204.27,345.21 L205.74,343.83 L207.15,342.42 L208.64,341.06 L210.22,339.82 L211.82,338.62 L213.44,337.44 L215.04,336.22 L216.55,334.91 L217.99,333.50 L219.43,332.12 L220.99,330.85 L222.63,329.70 L224.31,328.59 L225.98,327.46 L227.65,326.37 L229.37,325.33 L231.08,324.29 L232.82,323.29 L234.63,322.45 L236.54,321.82 L238.46,321.30 L240.41,320.78 L242.34,320.24 L244.22,319.56 L246.05,318.74 L247.87,317.86 L249.68,317.04 L251.58,316.45 L253.55,316.05 L255.52,315.68 L257.50,315.30 L259.47,314.96 L261.47,314.69 L263.46,314.51 L265.48,314.35 L267.48,314.19 L268.48,314.12" fill="none" stroke="#e3565b" stroke-width="2.9" stroke-dasharray="9.00,7.25" stroke-dashoffset="6.80"/><path d="M73.71,535.50 L75.17,534.12 L76.61,532.71 L78.05,531.33 L79.47,529.90 L80.84,528.43 L82.16,526.92 L83.44,525.38 L84.58,523.72 L85.62,522.03 L86.64,520.28 L87.64,518.54 L88.66,516.82 L89.70,515.10 L90.73,513.38 L91.77,511.66 L92.84,509.96 L93.91,508.26 L94.97,506.56 L96.06,504.86 L97.16,503.19 L98.27,501.51 L99.38,499.84 L100.45,498.14 L101.50,496.42 L102.52,494.70 L103.54,492.96 L104.54,491.24 L105.58,489.49 L106.60,487.77 L107.62,486.05 L108.55,484.31 L109.39,482.54 L110.32,480.78 L111.27,479.01 L112.29,477.36 L113.40,475.93 L114.49,474.41 L114.90,473.78" fill="none" stroke="#46d965" stroke-width="2.9" stroke-dasharray="8.50,7.30" stroke-dashoffset="0.52"/><path d="M114.90,473.78 L115.56,472.74 L116.63,471.04 L117.81,469.43 L119.14,467.96 L120.55,466.53 L121.99,465.22 L123.38,464.00 L124.61,462.57 L125.71,460.92 L126.80,459.27 L127.91,457.75 L129.02,456.37 L130.25,455.12 L131.51,453.77 L132.72,452.23 L134.08,450.80 L135.59,449.49 L137.13,448.33 L138.70,447.36 L140.35,446.34 L142.02,445.23 L143.69,444.12 L145.23,442.88 L146.48,441.38 L147.45,439.64 L148.41,437.87 L149.43,436.15 L150.61,434.54 L151.91,433.03 L153.23,431.51 L154.51,429.97 L155.79,428.41 L157.04,426.85 L158.29,425.28 L159.59,423.75 L160.94,422.25 L162.26,420.76 L163.59,419.24 L164.04,418.63" fill="none" stroke="#46d965" stroke-width="2.9" stroke-dasharray="8.50,7.20" stroke-dashoffset="11.49"/><path d="M164.04,418.63 L164.77,417.66 L165.74,415.89 L166.58,414.08 L167.44,412.27 L168.44,410.55 L169.60,408.92 L170.85,407.35 L172.08,405.77 L173.22,404.12 L174.19,402.37 L175.10,400.58 L176.07,398.84 L177.26,397.23 L178.58,395.76 L179.93,394.27 L181.02,392.71 L181.74,391.03 L182.43,389.29 L183.32,387.52 L184.24,385.76 L185.26,384.10 L186.54,382.61 L187.96,381.18 L189.37,379.76 L190.74,378.28 L192.00,376.72 L193.20,375.14 L194.50,373.64 L196.03,372.38 L197.61,371.20 L198.94,369.93 L200.17,368.71 L201.77,367.64 L203.44,366.58 L205.13,365.47 L206.83,364.41 L208.59,363.48 L210.43,362.66 L210.77,362.52" fill="none" stroke="#46d965" stroke-width="2.9" stroke-dasharray="8.50,7.15" stroke-dashoffset="7.24"/><path d="M210.77,362.52 L212.28,361.87 L214.09,361.08 L215.79,360.08 L217.16,358.72 L218.32,357.09 L219.41,355.42 L220.45,353.70 L221.43,351.95 L222.38,350.19 L223.33,348.42 L224.38,346.72 L225.61,345.14 L226.98,343.69 L228.39,342.29 L229.81,340.86 L231.25,339.43 L232.66,338.03 L234.08,336.60 L235.45,335.13 L236.70,333.57 L237.93,331.99 L239.23,330.51 L240.79,329.29 L242.50,328.25 L244.24,327.23 L245.99,326.30 L247.84,325.69 L249.82,325.44 L251.81,325.28 L253.83,325.13 L255.80,324.90 L257.78,324.49 L259.70,323.99 L261.65,323.47 L263.60,322.95 L265.53,322.45 L267.50,322.02 L268.48,321.80" fill="none" stroke="#46d965" stroke-width="2.9" stroke-dasharray="8.50,7.05" stroke-dashoffset="2.61"/><path d="M78.19,535.50 L79.91,534.43 L81.63,533.39 L83.34,532.33 L85.04,531.26 L86.57,530.04 L87.69,528.50 L88.52,526.69 L89.31,524.83 L90.15,523.02 L91.17,521.28 L92.30,519.63 L93.49,518.00 L94.65,516.37 L95.74,514.67 L96.76,512.95 L97.76,511.18 L98.80,509.46 L99.92,507.81 L101.10,506.18 L102.29,504.55 L103.42,502.89 L104.44,501.15 L105.35,499.36 L106.28,497.60 L107.30,495.88 L108.34,494.18 L109.32,492.41 L110.29,490.65 L111.20,488.86 L112.01,487.02 L112.78,485.17 L113.54,483.31 L114.49,481.57 L115.77,480.07 L117.28,478.78 L117.80,478.36" fill="none" stroke="#000000" stroke-width="2.9" stroke-dasharray="8.75,7.30" stroke-dashoffset="14.30"/><path d="M117.80,478.36 L118.83,477.52 L120.30,476.16 L121.39,474.55 L122.22,472.74 L122.99,470.90 L123.94,469.16 L125.08,467.53 L126.29,465.92 L127.47,464.29 L128.61,462.64 L129.58,460.90 L130.37,459.06 L131.11,457.21 L131.81,455.42 L132.65,453.79 L133.81,452.20 L135.04,450.64 L136.24,449.03 L137.47,447.49 L138.84,446.07 L140.28,444.73 L141.49,443.35 L142.67,442.13 L144.30,441.13 L145.97,440.11 L147.41,438.78 L148.71,437.28 L150.10,435.81 L151.52,434.39 L153.00,433.03 L154.56,431.78 L156.23,430.65 L157.90,429.54 L159.57,428.41 L161.22,427.28 L162.84,426.08 L163.18,425.83" fill="none" stroke="#000000" stroke-width="2.9" stroke-dasharray="8.75,7.10" stroke-dashoffset="4.57"/><path d="M163.18,425.83 L164.47,424.88 L166.05,423.63 L167.58,422.32 L169.09,420.98 L170.57,419.62 L171.94,418.20 L173.10,416.59 L174.03,414.83 L174.98,413.04 L176.05,411.36 L177.33,409.84 L178.74,408.40 L180.16,406.97 L181.53,405.52 L182.80,403.96 L184.03,402.35 L185.22,400.74 L186.45,399.23 L187.91,397.91 L189.51,396.71 L191.14,395.54 L192.79,394.38 L194.46,393.23 L196.10,392.12 L197.57,390.94 L198.66,389.65 L199.86,388.31 L201.35,387.00 L202.86,385.66 L204.27,384.24 L205.62,382.74 L206.92,381.20 L208.13,379.69 L209.33,378.24 L210.68,376.86 L212.12,375.54" fill="none" stroke="#000000" stroke-width="2.9" stroke-dasharray="8.75,6.80" stroke-dashoffset="11.69"/><path d="M212.12,375.54 L212.17,375.50 L213.56,374.14 L214.58,372.67 L215.39,371.06 L216.46,369.45 L217.74,367.94 L219.22,366.60 L220.85,365.42 L222.52,364.32 L224.19,363.18 L225.77,361.96 L227.18,360.56 L228.53,359.06 L229.92,357.61 L231.48,356.39 L233.17,355.33 L234.91,354.31 L236.63,353.27 L238.26,352.11 L239.74,350.75 L241.18,349.35 L242.67,347.99 L244.24,346.79 L245.96,345.75 L247.70,344.73 L249.44,343.74 L251.23,342.81 L253.09,342.01 L254.94,341.25 L256.80,340.45 L258.59,339.57 L260.38,338.64 L262.16,337.69 L263.93,336.74 L265.71,335.83 L267.55,335.00 L268.48,334.59" fill="none" stroke="#000000" stroke-width="2.9" stroke-dasharray="8.75,7.00" stroke-dashoffset="4.92"/></g>
<text x="59.0" y="563.2" text-anchor="middle" class="t">0</text>
<text x="128.6" y="563.2" text-anchor="middle" class="t">3</text>
<text x="198.3" y="563.2" text-anchor="middle" class="t">6</text>
<text x="267.9" y="563.2" text-anchor="middle" class="t">9</text>
<text x="50.4" y="543.1" text-anchor="end" class="t">0</text>
<text x="50.4" y="497.8" text-anchor="end" class="t">0.2</text>
<text x="50.4" y="452.5" text-anchor="end" class="t">0.4</text>
<text x="50.4" y="407.3" text-anchor="end" class="t">0.6</text>
<text x="50.4" y="362.0" text-anchor="end" class="t">0.8</text>
<text x="50.4" y="316.7" text-anchor="end" class="t">1</text>
<text transform="translate(22.0,422.5) rotate(-90)" text-anchor="middle" class="t">CDF</text>
<text x="165.2" y="588.5" text-anchor="middle" class="t">(c) LSEGA</text>
<rect x="174.6" y="418.4" width="93.8" height="118.8" fill="#fff" stroke="#1c1c1c" stroke-width="1.3"/>
<line x1="183.6" y1="435.4" x2="194.9" y2="435.4" stroke="#1f66e4" stroke-width="3"/>
<text x="202.2" y="440.4" class="g">σ</text>
<text x="211.4" y="447.0" class="gs">θ</text>
<text x="217.2" y="440.4" class="l">=0.1</text>
<line x1="183.6" y1="463.5" x2="194.9" y2="463.5" stroke="#e3565b" stroke-width="3"/>
<text x="202.2" y="468.5" class="g">σ</text>
<text x="211.4" y="475.1" class="gs">θ</text>
<text x="217.2" y="468.5" class="l">=0.12</text>
<line x1="183.6" y1="491.7" x2="194.9" y2="491.7" stroke="#46d965" stroke-width="3"/>
<text x="202.2" y="496.7" class="g">σ</text>
<text x="211.4" y="503.3" class="gs">θ</text>
<text x="217.2" y="496.7" class="l">=0.14</text>
<line x1="183.6" y1="519.8" x2="194.9" y2="519.8" stroke="#000000" stroke-width="3"/>
<text x="202.2" y="524.8" class="g">σ</text>
<text x="211.4" y="531.4" class="gs">θ</text>
<text x="217.2" y="524.8" class="l">=0.16</text>
<rect x="328.9" y="309.3" width="209.4" height="226.4" fill="none" stroke="#1c1c1c" stroke-width="1.3"/>
<line x1="398.7" y1="535.7" x2="398.7" y2="532.9" stroke="#1c1c1c" stroke-width="1.3"/>
<line x1="398.7" y1="309.3" x2="398.7" y2="312.1" stroke="#1c1c1c" stroke-width="1.3"/>
<line x1="468.5" y1="535.7" x2="468.5" y2="532.9" stroke="#1c1c1c" stroke-width="1.3"/>
<line x1="468.5" y1="309.3" x2="468.5" y2="312.1" stroke="#1c1c1c" stroke-width="1.3"/>
<line x1="328.9" y1="490.4" x2="331.7" y2="490.4" stroke="#1c1c1c" stroke-width="1.3"/>
<line x1="538.3" y1="490.4" x2="535.5" y2="490.4" stroke="#1c1c1c" stroke-width="1.3"/>
<line x1="328.9" y1="445.1" x2="331.7" y2="445.1" stroke="#1c1c1c" stroke-width="1.3"/>
<line x1="538.3" y1="445.1" x2="535.5" y2="445.1" stroke="#1c1c1c" stroke-width="1.3"/>
<line x1="328.9" y1="399.9" x2="331.7" y2="399.9" stroke="#1c1c1c" stroke-width="1.3"/>
<line x1="538.3" y1="399.9" x2="535.5" y2="399.9" stroke="#1c1c1c" stroke-width="1.3"/>
<line x1="328.9" y1="354.6" x2="331.7" y2="354.6" stroke="#1c1c1c" stroke-width="1.3"/>
<line x1="538.3" y1="354.6" x2="535.5" y2="354.6" stroke="#1c1c1c" stroke-width="1.3"/>
<g clip-path="url(#cld)"><path d="M329.64,533.82 L330.85,532.21 L332.04,530.61 L333.09,528.93 L333.83,527.10 L334.37,525.17 L334.86,523.23 L335.39,521.28 L336.04,519.40 L336.74,517.52 L337.46,515.64 L338.16,513.76 L338.74,511.84 L339.21,509.89 L339.63,507.92 L340.04,505.95 L340.51,504.00 L341.05,502.08 L341.63,500.16 L342.21,498.23 L342.86,496.33 L343.65,494.50 L344.56,492.71 L345.54,490.96 L346.56,489.24 L347.82,487.70 L349.26,486.32 L350.75,484.96 L352.19,483.58 L353.45,482.07 L354.45,480.35 L355.38,478.58 L356.38,476.84 L357.59,475.27 L358.96,473.82 L360.38,472.40 L361.78,470.95 L363.03,469.41 L364.08,467.73 L365.06,465.97 L365.87,464.16 L366.14,463.43" fill="none" stroke="#1f66e4" stroke-width="2.9" stroke-dasharray="8.75,7.60" stroke-dashoffset="0.50"/><path d="M366.14,463.43 L366.55,462.32 L367.45,460.74 L368.76,459.47 L369.69,458.00 L370.06,456.14 L370.45,454.22 L371.06,452.32 L371.69,450.39 L372.34,448.49 L373.01,446.61 L373.73,444.73 L374.46,442.88 L375.20,441.00 L375.97,439.14 L376.78,437.31 L377.60,435.47 L378.46,433.66 L379.46,431.92 L380.60,430.29 L381.79,428.66 L382.95,427.03 L384.04,425.35 L385.00,423.59 L385.93,421.80 L386.88,420.03 L388.00,418.40 L389.30,416.89 L390.65,415.39 L391.98,413.87 L393.26,412.33 L394.49,410.75 L395.72,409.19 L397.05,407.74 L398.28,406.36 L399.03,404.80 L399.86,403.39 L401.40,402.51 L403.14,401.72 L404.73,400.56 L406.17,399.18 L407.59,397.75 L408.50,396.71" fill="none" stroke="#1f66e4" stroke-width="2.9" stroke-dasharray="8.75,7.30" stroke-dashoffset="14.93"/><path d="M408.50,396.71 L408.91,396.24 L410.12,394.65 L411.31,393.05 L412.50,391.42 L413.75,389.85 L415.10,388.38 L416.52,386.96 L417.94,385.60 L419.36,384.26 L420.59,382.77 L421.55,381.05 L422.46,379.26 L423.50,377.58 L424.85,376.13 L426.34,374.80 L427.90,373.62 L429.53,372.60 L430.97,371.38 L432.25,369.88 L433.41,368.30 L434.46,366.78 L435.65,365.38 L437.11,364.04 L438.53,362.75 L439.79,361.51 L441.21,360.38 L442.63,359.09 L443.84,357.50 L444.93,355.83 L446.00,354.13 L447.02,352.41 L448.10,350.71 L449.24,349.06 L450.51,347.52 L451.84,346.02 L453.19,344.53 L454.61,343.10 L456.12,341.81 L457.73,340.59 L459.33,339.41 L460.98,338.26 L462.24,337.41" fill="none" stroke="#1f66e4" stroke-width="2.9" stroke-dasharray="8.75,6.90" stroke-dashoffset="0.02"/><path d="M462.24,337.41 L462.66,337.12 L464.31,336.02 L465.99,334.91 L467.64,333.75 L469.27,332.57 L470.90,331.40 L472.53,330.22 L474.20,329.13 L475.95,328.14 L477.69,327.16 L479.46,326.21 L481.23,325.24 L483.00,324.29 L484.76,323.31 L486.53,322.39 L488.35,321.53 L490.21,320.78 L492.07,320.05 L493.95,319.33 L495.79,318.56 L497.63,317.70 L499.42,316.82 L501.24,315.98 L503.10,315.30 L505.05,314.80 L507.01,314.37 L508.98,313.96 L510.94,313.53 L512.92,313.15 L514.89,312.79 L516.87,312.42 L518.83,312.06 L520.83,311.72 L522.80,311.50 L524.81,311.34 L526.81,311.20 L528.81,311.07 L530.83,310.93 L532.83,310.79 L534.83,310.68 L536.83,310.55" fill="none" stroke="#1f66e4" stroke-width="2.9" stroke-dasharray="8.75,7.40" stroke-dashoffset="2.54"/><path d="M335.65,535.70 L336.48,533.87 L337.30,532.03 L338.14,530.20 L338.95,528.39 L339.67,526.51 L340.09,524.58 L340.28,522.59 L340.46,520.60 L340.81,518.63 L341.37,516.73 L342.05,514.83 L342.72,512.95 L343.33,511.02 L343.74,509.08 L343.93,507.08 L344.07,505.09 L344.26,503.08 L344.63,501.15 L345.33,499.29 L346.21,497.48 L347.12,495.70 L348.14,494.00 L349.44,492.50 L350.91,491.14 L352.40,489.81 L353.93,488.52 L355.54,487.30 L357.15,486.10 L358.77,484.92 L360.36,483.67 L361.80,482.31 L363.17,480.82 L364.47,479.30 L365.75,477.76 L366.96,476.16 L368.15,474.53 L369.29,472.90 L370.24,471.18 L370.83,469.30 L370.99,468.24" fill="none" stroke="#e3565b" stroke-width="2.9" stroke-dasharray="8.50,7.40" stroke-dashoffset="11.85"/><path d="M370.99,468.24 L371.13,467.33 L371.43,465.33 L371.71,463.37 L372.18,461.55 L373.25,460.17 L374.71,458.97 L375.92,457.48 L376.78,455.71 L377.46,453.86 L378.13,451.95 L378.83,450.10 L379.69,448.31 L380.85,446.72 L382.23,445.28 L383.62,443.85 L384.95,442.40 L386.23,440.93 L387.56,439.46 L388.93,437.96 L390.21,436.42 L391.42,434.84 L392.60,433.21 L393.77,431.58 L394.88,429.90 L395.84,428.14 L396.75,426.37 L397.72,424.81 L398.93,423.81 L400.28,422.77 L401.63,421.37 L402.96,419.87 L404.26,418.33 L405.42,416.73 L406.47,415.01 L407.52,413.29 L408.59,411.59 L409.73,409.93 L410.91,408.30 L412.08,406.67 L413.26,405.04 L414.25,403.62" fill="none" stroke="#e3565b" stroke-width="2.9" stroke-dasharray="8.50,7.30" stroke-dashoffset="9.67"/><path d="M414.25,403.62 L414.40,403.39 L415.52,401.74 L416.66,400.06 L417.85,398.46 L419.15,396.94 L420.50,395.45 L421.85,393.95 L423.13,392.41 L424.32,390.78 L425.43,389.13 L426.50,387.45 L427.57,385.87 L428.90,384.51 L430.32,383.13 L431.53,381.59 L432.46,380.00 L433.53,378.58 L435.00,377.31 L436.51,376.09 L437.79,374.84 L439.21,373.64 L440.81,372.49 L442.46,371.33 L444.02,370.09 L445.49,368.73 L446.91,367.33 L448.26,365.90 L449.44,364.54 L450.82,363.27 L452.38,362.05 L453.87,360.74 L455.14,359.24 L456.38,357.68 L457.68,356.16 L459.03,354.65 L460.38,353.18 L461.80,351.75 L463.22,350.32 L464.64,348.90 L466.08,347.49 L467.52,346.11 L467.68,345.97" fill="none" stroke="#e3565b" stroke-width="2.9" stroke-dasharray="8.50,7.00" stroke-dashoffset="9.49"/><path d="M467.68,345.97 L468.99,344.73 L470.48,343.37 L471.99,342.04 L473.53,340.77 L475.08,339.50 L476.64,338.21 L478.11,336.85 L479.46,335.38 L480.81,333.91 L482.30,332.60 L483.97,331.51 L485.72,330.56 L487.49,329.59 L489.25,328.61 L490.98,327.59 L492.65,326.48 L494.35,325.40 L496.07,324.38 L497.86,323.52 L499.72,322.70 L501.56,321.91 L503.42,321.14 L505.31,320.46 L507.24,319.92 L509.17,319.42 L511.12,318.92 L513.06,318.36 L514.96,317.72 L516.85,317.04 L518.73,316.36 L520.64,315.73 L522.59,315.25 L524.55,314.89 L526.55,314.55 L528.53,314.24 L530.51,313.92 L532.51,313.60 L534.48,313.28 L536.46,312.99 L537.46,312.83" fill="none" stroke="#e3565b" stroke-width="2.9" stroke-dasharray="8.50,7.50" stroke-dashoffset="10.98"/><path d="M336.11,535.70 L337.11,533.96 L338.11,532.21 L339.11,530.47 L340.09,528.73 L340.98,526.94 L341.81,525.10 L342.63,523.27 L343.44,521.44 L344.26,519.60 L345.05,517.75 L345.79,515.89 L346.51,514.01 L347.23,512.13 L347.96,510.28 L348.68,508.40 L349.42,506.54 L350.19,504.68 L350.98,502.83 L351.75,500.99 L352.54,499.14 L353.24,497.26 L353.82,495.33 L354.31,493.39 L354.82,491.46 L355.38,489.54 L356.03,487.64 L356.75,485.76 L357.47,483.90 L358.33,482.11 L359.50,480.55 L360.94,479.19 L362.45,477.88 L364.01,476.59 L365.59,475.36 L367.20,474.16 L368.80,472.96 L370.38,471.72 L371.85,470.38 L372.15,470.07" fill="none" stroke="#46d965" stroke-width="2.9" stroke-dasharray="8.75,7.80" stroke-dashoffset="16.37"/><path d="M372.15,470.07 L373.22,468.91 L374.53,467.40 L375.62,465.74 L376.41,463.93 L377.16,462.10 L378.16,460.51 L379.44,459.15 L380.55,457.66 L381.58,455.98 L382.67,454.33 L383.86,452.75 L385.02,451.16 L386.16,449.51 L387.30,447.86 L388.44,446.27 L389.77,444.89 L391.32,443.69 L392.95,442.54 L394.65,441.49 L396.44,440.59 L398.00,439.55 L399.05,438.26 L400.21,437.51 L401.84,437.22 L403.42,436.36 L404.87,435.04 L406.31,433.64 L407.82,432.30 L409.40,431.08 L411.01,429.90 L412.64,428.70 L414.13,427.41 L415.38,425.87 L416.52,424.24 L417.64,422.57 L418.76,420.89 L419.87,419.22 L420.99,417.56 L422.08,415.87 L422.74,414.72" fill="none" stroke="#46d965" stroke-width="2.9" stroke-dasharray="8.75,7.30" stroke-dashoffset="11.52"/><path d="M422.74,414.72 L423.06,414.15 L423.76,412.29 L424.32,410.36 L424.90,408.44 L425.64,406.61 L426.64,404.89 L427.76,403.21 L428.85,401.56 L429.92,399.84 L430.81,398.07 L431.60,396.21 L432.39,394.38 L433.41,392.71 L434.74,391.26 L436.23,389.90 L437.72,388.59 L439.14,387.41 L440.32,386.14 L441.25,384.49 L442.14,382.70 L443.07,380.93 L444.00,379.19 L444.88,377.40 L445.75,375.59 L446.65,373.82 L447.70,372.13 L448.82,370.47 L449.96,368.84 L451.17,367.37 L452.52,366.08 L453.94,364.70 L455.38,363.30 L456.87,361.98 L458.54,360.96 L460.38,360.19 L462.26,359.49 L464.13,358.79 L466.01,358.07 L467.80,357.32 L468.63,356.94" fill="none" stroke="#46d965" stroke-width="2.9" stroke-dasharray="8.75,7.20" stroke-dashoffset="7.54"/><path d="M468.63,356.94 L469.45,356.57 L471.22,356.07 L473.15,355.71 L474.99,355.06 L476.74,354.10 L478.48,353.09 L480.25,352.18 L482.13,351.55 L484.07,351.09 L486.04,350.66 L487.97,350.21 L489.84,349.51 L491.56,348.54 L493.23,347.45 L494.91,346.36 L496.65,345.34 L498.42,344.39 L500.17,343.42 L501.93,342.44 L503.56,341.34 L504.98,339.95 L506.33,338.46 L507.75,337.10 L509.38,336.06 L511.22,335.27 L513.10,334.54 L514.96,333.80 L516.78,332.96 L518.52,331.99 L520.25,330.97 L521.99,330.02 L523.83,329.25 L525.76,328.68 L527.69,328.16 L529.62,327.64 L531.58,327.14 L533.53,326.69 L535.48,326.28 L537.46,325.87" fill="none" stroke="#46d965" stroke-width="2.9" stroke-dasharray="8.75,7.35" stroke-dashoffset="3.10"/><path d="M335.39,535.50 L336.58,534.27 L337.62,532.67 L338.63,530.92 L339.63,529.22 L340.58,527.55 L341.39,525.78 L342.16,523.95 L342.98,522.12 L343.98,520.37 L345.07,518.70 L346.19,517.02 L347.28,515.32 L348.26,513.60 L349.07,511.77 L349.84,509.91 L350.68,508.08 L351.68,506.38 L352.84,504.73 L354.03,503.10 L355.21,501.47 L356.40,499.86 L357.61,498.25 L358.82,496.65 L360.05,495.06 L361.33,493.50 L362.61,491.96 L363.89,490.42 L365.22,488.90 L366.69,487.57 L368.31,486.41 L370.01,485.35 L371.71,484.26 L373.39,483.18 L374.94,481.95 L376.32,480.50 L377.62,478.99 L378.99,477.52 L379.23,477.28" fill="none" stroke="#000000" stroke-width="2.9" stroke-dasharray="9.00,6.80" stroke-dashoffset="15.72"/><path d="M379.23,477.28 L380.41,476.09 L381.83,474.66 L383.16,473.19 L384.46,471.65 L385.74,470.11 L387.02,468.55 L388.32,467.03 L389.70,465.56 L391.09,464.13 L392.42,462.66 L393.60,461.15 L395.02,459.90 L396.51,458.72 L397.70,457.21 L398.63,455.44 L399.47,453.63 L400.19,451.77 L400.84,449.92 L401.56,448.22 L402.56,446.63 L403.80,445.07 L405.08,443.53 L406.42,442.04 L407.91,440.73 L409.57,439.59 L411.22,438.46 L412.85,437.26 L414.36,435.97 L415.87,434.64 L417.36,433.30 L418.97,432.14 L420.76,431.28 L422.64,430.58 L424.53,429.88 L426.41,429.18 L428.27,428.45 L430.13,427.66 L430.92,427.28" fill="none" stroke="#000000" stroke-width="2.9" stroke-dasharray="9.00,6.80" stroke-dashoffset="10.92"/><path d="M430.92,427.28 L431.90,426.80 L433.37,425.71 L434.48,424.31 L435.58,422.68 L436.72,421.07 L437.93,419.67 L439.28,418.45 L440.67,417.11 L442.07,415.69 L443.33,414.26 L444.40,412.74 L445.51,411.16 L446.72,409.55 L447.93,407.97 L449.14,406.38 L450.33,404.75 L451.47,403.10 L452.45,401.47 L453.31,399.79 L454.21,398.07 L455.21,396.37 L456.26,394.86 L457.33,393.48 L458.38,391.87 L459.40,390.15 L460.45,388.45 L461.66,386.86 L463.13,385.53 L464.68,384.31 L466.03,383.04 L467.22,381.70 L468.66,380.41 L470.29,379.28 L471.99,378.22 L473.50,376.99 L474.81,375.50 L476.02,373.91 L477.16,372.31 L477.98,371.24" fill="none" stroke="#000000" stroke-width="2.9" stroke-dasharray="9.00,6.80" stroke-dashoffset="5.71"/><path d="M477.98,371.24 L478.34,370.77 L479.69,369.30 L481.11,367.89 L482.41,366.47 L483.39,365.04 L484.39,363.73 L485.83,362.50 L487.44,361.33 L489.04,360.17 L490.70,359.04 L492.39,357.95 L494.07,356.87 L495.79,355.83 L497.56,354.87 L499.35,353.97 L501.14,353.04 L502.91,352.11 L504.66,351.12 L506.40,350.10 L508.12,349.08 L509.84,348.04 L511.54,346.95 L513.22,345.84 L514.85,344.66 L516.36,343.37 L517.73,341.92 L519.08,340.43 L520.48,338.98 L521.99,337.71 L523.69,336.69 L525.48,335.79 L527.27,334.84 L528.99,333.82 L530.67,332.73 L532.34,331.60 L534.02,330.51 L535.72,329.43 L537.46,328.43" fill="none" stroke="#000000" stroke-width="2.9" stroke-dasharray="9.00,6.90" stroke-dashoffset="0.85"/></g>
<text x="328.3" y="563.2" text-anchor="middle" class="t">0</text>
<text x="398.1" y="563.2" text-anchor="middle" class="t">3</text>
<text x="467.9" y="563.2" text-anchor="middle" class="t">6</text>
<text x="537.7" y="563.2" text-anchor="middle" class="t">9</text>
<text x="319.7" y="543.1" text-anchor="end" class="t">0</text>
<text x="319.7" y="497.8" text-anchor="end" class="t">0.2</text>
<text x="319.7" y="452.5" text-anchor="end" class="t">0.4</text>
<text x="319.7" y="407.3" text-anchor="end" class="t">0.6</text>
<text x="319.7" y="362.0" text-anchor="end" class="t">0.8</text>
<text x="319.7" y="316.7" text-anchor="end" class="t">1</text>
<text transform="translate(291.3,422.5) rotate(-90)" text-anchor="middle" class="t">CDF</text>
<text x="434.7" y="588.5" text-anchor="middle" class="t">(d) Proposed</text>
<rect x="443.8" y="418.4" width="94.6" height="118.7" fill="#fff" stroke="#1c1c1c" stroke-width="1.3"/>
<line x1="452.8" y1="435.4" x2="464.1" y2="435.4" stroke="#1f66e4" stroke-width="3"/>
<text x="471.4" y="440.4" class="g">σ</text>
<text x="480.6" y="447.0" class="gs">θ</text>
<text x="486.4" y="440.4" class="l">=0.1</text>
<line x1="452.8" y1="463.5" x2="464.1" y2="463.5" stroke="#e3565b" stroke-width="3"/>
<text x="471.4" y="468.5" class="g">σ</text>
<text x="480.6" y="475.1" class="gs">θ</text>
<text x="486.4" y="468.5" class="l">=0.12</text>
<line x1="452.8" y1="491.7" x2="464.1" y2="491.7" stroke="#46d965" stroke-width="3"/>
<text x="471.4" y="496.7" class="g">σ</text>
<text x="480.6" y="503.3" class="gs">θ</text>
<text x="486.4" y="496.7" class="l">=0.14</text>
<line x1="452.8" y1="519.8" x2="464.1" y2="519.8" stroke="#000000" stroke-width="3"/>
<text x="471.4" y="524.8" class="g">σ</text>
<text x="480.6" y="531.4" class="gs">θ</text>
<text x="486.4" y="524.8" class="l">=0.16</text>
<rect x="41.35" y="21.64" width="3.69" height="2.86" fill="#fff"/>
<rect x="46.59" y="21.64" width="3.55" height="2.86" fill="#fff"/>
<rect x="240.71" y="147.14" width="3.44" height="2.76" fill="#fff"/>
<rect x="245.58" y="147.14" width="3.31" height="2.76" fill="#fff"/>
<rect x="240.71" y="175.34" width="3.44" height="2.76" fill="#fff"/>
<rect x="245.58" y="175.34" width="3.31" height="2.76" fill="#fff"/>
<rect x="240.71" y="203.44" width="3.44" height="2.76" fill="#fff"/>
<rect x="245.58" y="203.44" width="3.31" height="2.76" fill="#fff"/>
<rect x="240.71" y="231.64" width="3.44" height="2.76" fill="#fff"/>
<rect x="245.58" y="231.64" width="3.31" height="2.76" fill="#fff"/>
<rect x="310.65" y="21.64" width="3.69" height="2.86" fill="#fff"/>
<rect x="315.89" y="21.64" width="3.55" height="2.86" fill="#fff"/>
<rect x="510.01" y="148.14" width="3.44" height="2.76" fill="#fff"/>
<rect x="514.88" y="148.14" width="3.31" height="2.76" fill="#fff"/>
<rect x="510.01" y="176.34" width="3.44" height="2.76" fill="#fff"/>
<rect x="514.88" y="176.34" width="3.31" height="2.76" fill="#fff"/>
<rect x="510.01" y="204.44" width="3.44" height="2.76" fill="#fff"/>
<rect x="514.88" y="204.44" width="3.31" height="2.76" fill="#fff"/>
<rect x="510.01" y="232.64" width="3.44" height="2.76" fill="#fff"/>
<rect x="514.88" y="232.64" width="3.31" height="2.76" fill="#fff"/>
<rect x="41.35" y="314.44" width="3.69" height="2.86" fill="#fff"/>
<rect x="46.59" y="314.44" width="3.55" height="2.86" fill="#fff"/>
<rect x="240.81" y="438.24" width="3.44" height="2.76" fill="#fff"/>
<rect x="245.68" y="438.24" width="3.31" height="2.76" fill="#fff"/>
<rect x="240.81" y="466.34" width="3.44" height="2.76" fill="#fff"/>
<rect x="245.68" y="466.34" width="3.31" height="2.76" fill="#fff"/>
<rect x="240.81" y="494.54" width="3.44" height="2.76" fill="#fff"/>
<rect x="245.68" y="494.54" width="3.31" height="2.76" fill="#fff"/>
<rect x="240.81" y="522.64" width="3.44" height="2.76" fill="#fff"/>
<rect x="245.68" y="522.64" width="3.31" height="2.76" fill="#fff"/>
<rect x="310.65" y="314.44" width="3.69" height="2.86" fill="#fff"/>
<rect x="315.89" y="314.44" width="3.55" height="2.86" fill="#fff"/>
<rect x="510.01" y="438.24" width="3.44" height="2.76" fill="#fff"/>
<rect x="514.88" y="438.24" width="3.31" height="2.76" fill="#fff"/>
<rect x="510.01" y="466.34" width="3.44" height="2.76" fill="#fff"/>
<rect x="514.88" y="466.34" width="3.31" height="2.76" fill="#fff"/>
<rect x="510.01" y="494.54" width="3.44" height="2.76" fill="#fff"/>
<rect x="514.88" y="494.54" width="3.31" height="2.76" fill="#fff"/>
<rect x="510.01" y="522.64" width="3.44" height="2.76" fill="#fff"/>
<rect x="514.88" y="522.64" width="3.31" height="2.76" fill="#fff"/>
</svg>
</body></html>
